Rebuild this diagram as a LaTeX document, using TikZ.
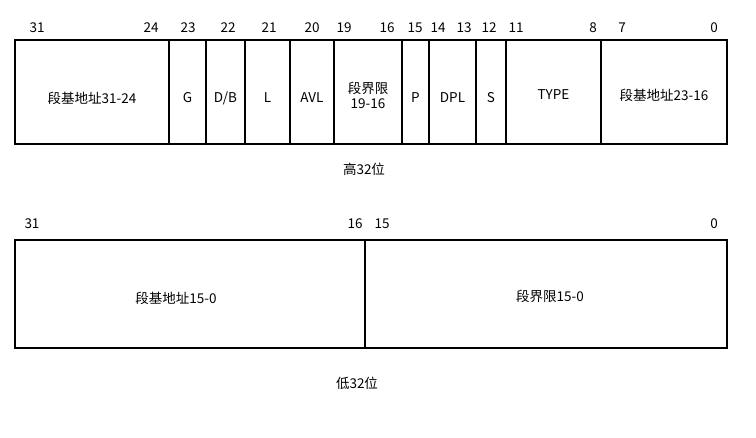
\documentclass[tikz,border=0pt]{standalone}
\usepackage{fontspec}
\setmainfont{Noto Sans CJK SC}
\begin{document}
\begin{tikzpicture}[x=1pt,y=-1pt,font=\fontsize{13.5}{15}\selectfont,
  box/.style={draw,line width=1.6pt},
  lbl/.style={inner sep=0pt}]
\useasboundingbox (0,0) rectangle (756,437);
% top register
\draw[box] (15,40) rectangle (727,144);
\foreach \x in {169,206,245,290,334,402,429,476,506,601}
  \draw[line width=1.6pt] (\x,40) -- (\x,144);
\node[lbl] (f1) at (92,98) {段基地址31-24};
\node[lbl] (f2) at (187.5,98) {G};
\node[lbl] (f3) at (225.5,98) {D/B};
\node[lbl] (f4) at (267.5,98) {L};
\node[lbl] (f5) at (312,98) {AVL};
\node[lbl,align=center] (f6) at (368,95) {段界限\\19-16};
\node[lbl] (f7) at (415.5,98) {P};
\node[lbl] (f8) at (452.5,98) {DPL};
\node[lbl] (f9) at (491,98) {S};
\node[lbl] (f10) at (553.5,95) {TYPE};
\node[lbl] (f11) at (664,95) {段基地址23-16};
\foreach \x/\t in {37/31,151/24,188/23,228/22,269/21,312/20,344/19,387/16,415/15,438/14,464/13,489/12,516/11,593/8,622/7,714/0}
  \node[lbl] (n\t) at (\x,28) {\t};
\node[lbl] (hi) at (364,169) {高32位};
% bottom register
\draw[box] (15,240) rectangle (727,348);
\draw[line width=1.6pt] (365,240) -- (365,348);
\node[lbl] (g1) at (176,298) {段基地址15-0};
\node[lbl] (g2) at (550,296) {段界限15-0};
\foreach \x/\t/\k in {32/31/a,355/16/b,382/15/c,714/0/d}
  \node[lbl] (m\k) at (\x,224) {\t};
\node[lbl] (lo) at (357,383) {低32位};
\end{tikzpicture}
\end{document}
